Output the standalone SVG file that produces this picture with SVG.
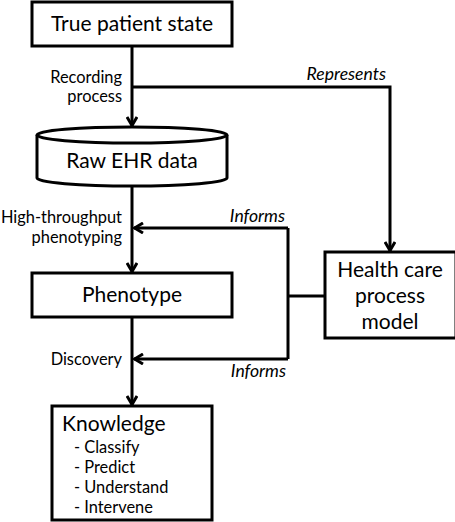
<svg xmlns="http://www.w3.org/2000/svg" width="455" height="522" viewBox="0 0 455 522">
<defs>
<marker id="ah" viewBox="0 0 12 12" refX="11" refY="6" markerWidth="12" markerHeight="12" markerUnits="userSpaceOnUse" orient="auto">
<path d="M2,1 L10.5,6 L2,11" fill="none" stroke="#000" stroke-width="3"/>
</marker>
</defs>
<style>
.box{fill:#fff;stroke:#000;stroke-width:3}
.ln{fill:none;stroke:#000;stroke-width:3}
.big{font-family:Lato,"Liberation Sans",sans-serif;font-size:21px;fill:#000}
.sm{font-family:Lato,"Liberation Sans",sans-serif;font-size:16.4px;fill:#000}
.it{font-family:Lato,"Liberation Sans",sans-serif;font-size:17.6px;font-style:italic;fill:#000}
</style>
<rect width="455" height="522" fill="#fff"/>
<g id="connectors">
<line class="ln" x1="132" y1="46" x2="132" y2="126" marker-end="url(#ah)"/>
<polyline class="ln" points="132,87 390,87 390,251" marker-end="url(#ah)"/>
<line class="ln" x1="132" y1="186" x2="132" y2="272" marker-end="url(#ah)"/>
<line class="ln" x1="132" y1="317" x2="132" y2="405" marker-end="url(#ah)"/>
<polyline class="ln" points="288,228 288,359"/>
<line class="ln" x1="288" y1="228" x2="134" y2="228" marker-end="url(#ah)"/>
<line class="ln" x1="288" y1="359" x2="134" y2="359" marker-end="url(#ah)"/>
<line class="ln" x1="288" y1="296" x2="325" y2="296"/>
<text class="sm" x="122" y="83" text-anchor="end">Recording</text>
<text class="sm" x="122" y="102" text-anchor="end">process</text>
<text class="it" x="386" y="80" text-anchor="end">Represents</text>
<text class="sm" x="122" y="223" text-anchor="end">High-throughput</text>
<text class="sm" x="122" y="243" text-anchor="end">phenotyping</text>
<text class="it" x="285" y="222" text-anchor="end">Informs</text>
<text class="sm" x="122" y="365" text-anchor="end">Discovery</text>
<text class="it" x="286" y="377" text-anchor="end">Informs</text>
</g>
<g id="true-patient-state">
<rect class="box" x="32" y="2" width="200" height="44"/>
<text class="big" x="132" y="31" text-anchor="middle">True patient state</text>
</g>
<g id="raw-ehr-data">
<path class="box" d="M37,135 V178 A95,8 0 0 0 227,178 V135"/>
<ellipse class="box" cx="132" cy="135" rx="95" ry="8"/>
<text class="big" x="132" y="168" text-anchor="middle">Raw EHR data</text>
</g>
<g id="phenotype">
<rect class="box" x="32" y="273" width="200" height="44"/>
<text class="big" x="132" y="302" text-anchor="middle">Phenotype</text>
</g>
<g id="health-care-process-model">
<rect class="box" x="325" y="252" width="131" height="86"/>
<text class="big" x="390" y="277" text-anchor="middle">Health care</text>
<text class="big" x="390" y="303" text-anchor="middle">process</text>
<text class="big" x="390" y="329" text-anchor="middle">model</text>
</g>
<g id="knowledge">
<rect class="box" x="52" y="406" width="160" height="114"/>
<text class="big" x="62" y="431">Knowledge</text>
<text class="sm" x="74" y="453">- Classify</text>
<text class="sm" x="74" y="473">- Predict</text>
<text class="sm" x="74" y="493">- Understand</text>
<text class="sm" x="74" y="513">- Intervene</text>
</g>
</svg>
